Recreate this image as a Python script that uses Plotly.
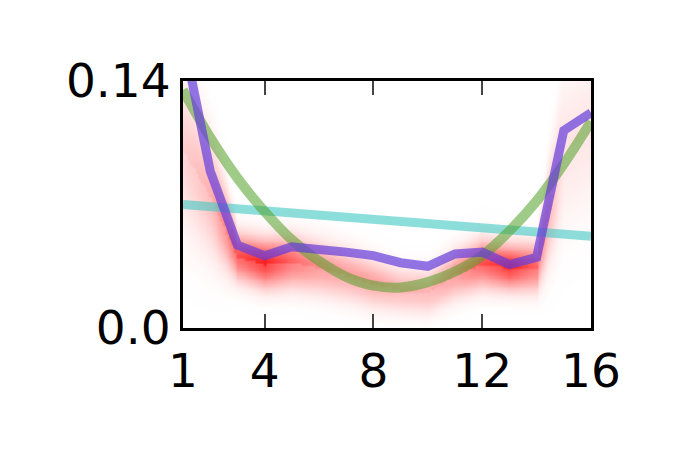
import numpy as np
import plotly.graph_objects as go

x_int = list(range(1, 17))
purple = [0.165, 0.089, 0.047, 0.041, 0.046, 0.045, 0.043, 0.041, 0.037, 0.035, 0.042, 0.043, 0.036, 0.040, 0.112, 0.122]
green = [0.135, 0.108, 0.085, 0.066, 0.050, 0.038, 0.029, 0.024, 0.023, 0.026, 0.032, 0.041, 0.055, 0.072, 0.093, 0.117]
cyan_x = [1, 16]
cyan = [0.070, 0.052]
# density band: centre and spread per integer x
band_c = [0.10, 0.075, 0.040, 0.036, 0.037, 0.034, 0.030, 0.025, 0.021, 0.020, 0.030, 0.036, 0.034, 0.034, 0.10, 0.11]
band_s = [0.04, 0.03, 0.012, 0.012, 0.013, 0.013, 0.013, 0.012, 0.011, 0.011, 0.012, 0.012, 0.011, 0.012, 0.04, 0.04]
band_a = [0.4, 0.5, 0.75, 0.85, 0.7, 0.6, 0.55, 0.55, 0.5, 0.5, 0.6, 0.75, 0.85, 0.7, 0.3, 0.3]

gx = np.arange(1, 16.001, 0.1)
gy = np.arange(0, 0.1401, 0.0015)
c = np.interp(gx, x_int, band_c)
s = np.interp(gx, x_int, band_s)
a = np.interp(gx, x_int, band_a)
Z = a[None, :] * np.exp(-0.5 * ((gy[:, None] - c[None, :]) / s[None, :]) ** 2)
Z += 0.12 * a[None, :] * (gy[:, None] > c[None, :]) * np.exp(-(gy[:, None] - c[None, :]) / 0.03)

fig = go.Figure()
fig.add_trace(go.Heatmap(x=gx, y=gy, z=Z, zmin=0, zmax=1, showscale=False,
                         colorscale=[[0, "rgba(255,255,255,0)"], [1, "rgb(255,0,0)"]], zsmooth="best"))
fig.add_trace(go.Scatter(x=cyan_x, y=cyan, mode="lines", line=dict(color="rgba(64,200,195,0.6)", width=9)))
fig.add_trace(go.Scatter(x=x_int, y=green, mode="lines", line=dict(color="rgba(80,160,40,0.55)", width=10, shape="spline")))
fig.add_trace(go.Scatter(x=x_int, y=purple, mode="lines", line=dict(color="rgba(100,60,220,0.7)", width=9)))

fig.update_layout(width=677, height=452, margin=dict(l=175, r=94, t=73, b=132),
                  paper_bgcolor="white", plot_bgcolor="white", showlegend=False,
                  font=dict(family="DejaVu Sans", size=47, color="black"))
fig.update_xaxes(range=[1, 16], tickvals=[1, 4, 8, 12, 16], ticks="inside", ticklen=14, tickwidth=2,
                 showline=True, linewidth=3, linecolor="black", mirror="ticks", showgrid=False, zeroline=False)
fig.update_yaxes(range=[0, 0.14], tickvals=[0, 0.14], ticktext=["0.0", "0.14"], ticks="", showline=True,
                 linewidth=3, linecolor="black", mirror=True, showgrid=False, zeroline=False)
fig.write_html("out.html")
